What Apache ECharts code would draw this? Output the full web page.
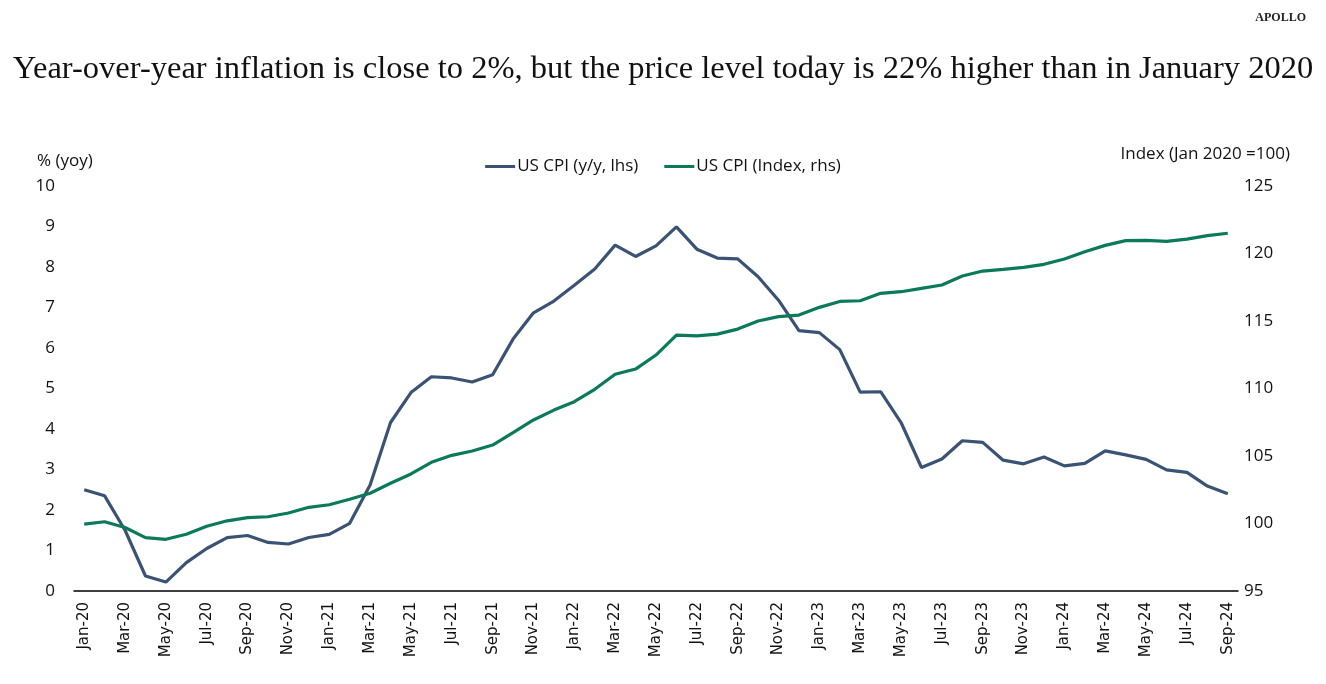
<!DOCTYPE html>
<html>
<head>
<meta charset="utf-8">
<script src="https://cdn.jsdelivr.net/npm/echarts@6/dist/echarts.min.js"></script>
<style>
  html, body { margin: 0; padding: 0; background: #fff; }
  #pic { width: 1326px; height: 684px; }
</style>
</head>
<body>
<div id="pic"></div>
<script>
var months = ['Jan', 'Feb', 'Mar', 'Apr', 'May', 'Jun', 'Jul', 'Aug', 'Sep', 'Oct', 'Nov', 'Dec'];
var years = ['20', '21', '22', '23', '24'];

// US CPI y/y, % (lhs)
var cpiYoy = [
    2.5, 2.35, 1.5, 0.37, 0.22, 0.7, 1.05, 1.32, 1.37, 1.2, 1.16, 1.32,
    1.4, 1.67, 2.62, 4.16, 4.9, 5.29, 5.26, 5.16, 5.34, 6.22, 6.87, 7.16,
    7.55, 7.95, 8.54, 8.26, 8.52, 8.99, 8.44, 8.22, 8.2, 7.76, 7.18, 6.43,
    6.38, 5.96, 4.91, 4.92, 4.16, 3.05, 3.26, 3.71, 3.67, 3.23, 3.14, 3.31,
    3.09, 3.15, 3.46, 3.36, 3.25, 2.99, 2.93, 2.59, 2.4
];

// US CPI index, Jan 2020 = 100 (rhs)
var cpiIndex = [
    99.96, 100.13, 99.7, 98.95, 98.83, 99.2, 99.8, 100.2, 100.43, 100.5, 100.78, 101.2,
    101.39, 101.8, 102.24, 102.98, 103.67, 104.53, 105.05, 105.37, 105.81, 106.73, 107.67, 108.4,
    109.02, 109.94, 111.05, 111.44, 112.48, 113.96, 113.9, 114.03, 114.4, 115.0, 115.32, 115.44,
    116.01, 116.45, 116.5, 117.05, 117.17, 117.42, 117.67, 118.33, 118.7, 118.83, 118.97, 119.2,
    119.59, 120.13, 120.6, 120.95, 120.97, 120.9, 121.07, 121.32, 121.5
];

var categories = []
for (var i = 0; i < cpiYoy.length; i++) {
    categories.push(months[i % 12] + '-' + years[Math.floor(i / 12)])
}

var blue = '#3a5374';
var green = '#0a7a5b';
var sans = '"Open Sans", "Noto Sans", sans-serif';
var serif = '"Liberation Serif", "DejaVu Serif", serif';

var myChart = echarts.init(document.getElementById('pic'));
var option = {
    animation: false,
    backgroundColor: '#fff',
    title: {
        text: 'Year-over-year inflation is close to 2%, but the price level today is 22% higher than in January 2020',
        left: 'center',
        top: 48,
        textStyle: {
            fontFamily: serif,
            fontWeight: 'normal',
            fontSize: 32.5,
            color: '#111'
        }
    },
    graphic: [
        {
            type: 'text',
            right: 20,
            top: 12,
            style: {
                text: 'APOLLO',
                font: '600 12px ' + serif,
                fill: '#222'
            }
        },
        {
            type: 'text',
            left: 37,
            top: 153,
            style: { text: '% (yoy)', font: '17px ' + sans, fill: '#111' }
        },
        {
            type: 'text',
            right: 36,
            top: 146,
            style: { text: 'Index (Jan 2020 =100)', font: '17px ' + sans, fill: '#111' }
        }
    ],
    legend: {
        top: 153,
        left: 'center',
        icon: 'rect',
        itemWidth: 30,
        itemHeight: 3,
        itemGap: 26,
        textStyle: {
            fontFamily: sans,
            fontSize: 17,
            color: '#111',
            padding: [0, 0, 0, -3]
        },
        data: ['US CPI (y/y, lhs)', 'US CPI (Index, rhs)']
    },
    grid: {
        left: 74,
        right: 88,
        top: 186,
        bottom: 93,
        containLabel: false
    },
    xAxis: {
        type: 'category',
        data: categories,
        boundaryGap: true,
        axisLine: { lineStyle: { color: '#000', width: 1.5 } },
        axisTick: { interval: 1, length: 6, lineStyle: { color: '#000', width: 1.5 } },
        axisLabel: {
            interval: 1,
            rotate: 90,
            margin: 11,
            fontFamily: '"DejaVu Sans", sans-serif',
            fontSize: 15,
            color: '#111'
        },
        splitLine: { show: false }
    },
    yAxis: [
        {
            type: 'value',
            min: 0,
            max: 10,
            interval: 1,
            axisLine: { show: false },
            axisTick: { show: false },
            splitLine: { show: false },
            axisLabel: {
                margin: 19,
                fontFamily: sans,
                fontSize: 17,
                color: '#111'
            }
        },
        {
            type: 'value',
            min: 95,
            max: 125,
            interval: 5,
            position: 'right',
            axisLine: { show: false },
            axisTick: { show: false },
            splitLine: { show: false },
            axisLabel: {
                margin: 6,
                fontFamily: sans,
                fontSize: 17,
                color: '#111'
            }
        }
    ],
    series: [
        {
            name: 'US CPI (y/y, lhs)',
            type: 'line',
            yAxisIndex: 0,
            data: cpiYoy,
            symbol: 'none',
            color: blue,
            lineStyle: { width: 3.2, color: blue }
        },
        {
            name: 'US CPI (Index, rhs)',
            type: 'line',
            yAxisIndex: 1,
            data: cpiIndex,
            symbol: 'none',
            color: green,
            lineStyle: { width: 3.2, color: green }
        }
    ]
}
myChart.setOption(option);
</script>
</body>
</html>
